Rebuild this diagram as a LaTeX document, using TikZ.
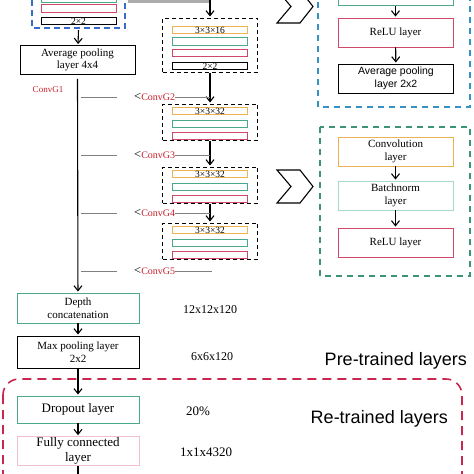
\documentclass[tikz,border=0pt]{standalone}
\usepackage{fontspec}
\setmainfont{Liberation Serif}
\setsansfont{Liberation Sans}
\usetikzlibrary{arrows.meta,calc}
\definecolor{layer-green}{RGB}{76,168,138}
\definecolor{layer-pink}{RGB}{208,72,104}
\definecolor{layer-orange}{RGB}{236,178,84}
\definecolor{layer-mint}{RGB}{168,218,200}
\definecolor{layer-rose}{RGB}{240,192,204}
\definecolor{conv-red}{RGB}{200,32,44}
\definecolor{group-blue}{RGB}{56,108,200}
\definecolor{group-sky}{RGB}{52,146,196}
\definecolor{group-green}{RGB}{60,148,118}
\definecolor{group-red}{RGB}{200,40,80}
\newcommand{\outtip}{{\color{black}\fontsize{12.5}{12}\selectfont<}}

\tikzset{
  layer/.style={draw, line width=0.9pt, minimum width=115pt, minimum height=29pt, inner sep=1pt, align=center, font=\fontsize{11}{12.5}\selectfont},
  bar/.style={draw, line width=0.8pt, minimum width=75pt, minimum height=7.5pt, inner sep=0pt, font=\fontsize{9.5}{9.5}\selectfont},
  grp/.style={draw, line width=1pt, dash pattern=on 4pt off 3pt, minimum width=95pt},
  arr/.style={-{Straight Barb[length=5pt,width=8pt]}, line width=1.1pt, shorten >=1pt},
  feed/.style={gray, line width=0.8pt},
  convlabel/.style={text=conv-red, inner sep=0pt, font=\fontsize{10}{11}\selectfont},
  dimtext/.style={inner sep=0pt, font=\fontsize{12}{13}\selectfont},
  chev/.style={line width=1.1pt, line join=miter}
}

\begin{document}
\begin{tikzpicture}[x=1pt, y=-1pt]
\useasboundingbox (0,0) rectangle (474,474);
\clip (0,0) rectangle (474,474);

% first stage, cut off at the top
\draw[group-blue, line width=1.4pt, dash pattern=on 6pt off 4pt] (32,-20) rectangle (125,28);
\node[bar, draw=layer-green] (s0g) at (78.5,-1.5) {};
\node[bar, draw=layer-pink] (s0p) at (78.5,8.5) {};
\node[bar] (s0b) at (78.5,21) {2×2};
\node[layer] (avg4) at (77.5,60) {Average pooling\\layer 4x4};
\draw[arr] ([yshift=-5pt]s0b.south) -- (avg4);

% main chain of conv groups
\node[fill=gray!65, minimum width=81pt, minimum height=8pt, inner sep=0pt] (gbar) at (168.5,-1) {};
\coordinate (gin) at (210,-2);
\node[grp, minimum height=54pt] (g1) at (210,45) {};
\node[bar, draw=layer-orange] (g1o) at (210,30) {3×3×16};
\node[bar, draw=layer-green] (g1g) at (210,41.5) {};
\node[bar, draw=layer-pink] (g1p) at (210,53) {};
\node[bar] (g1b) at (210,66) {2×2};
\foreach \n/\y in {2/104,3/167,4/223} {
  \node[grp, minimum height=36pt] (g\n) at (210,\y+18) {};
  \node[bar, draw=layer-orange] (g\n o) at (210,\y+7) {3×3×32};
  \node[bar, draw=layer-green] (g\n g) at (210,\y+20) {};
  \node[bar, draw=layer-pink] (g\n p) at (210,\y+32) {};
}
\draw[arr] (gin) -- (g1);
\draw[arr] (g1) -- (g2);
\draw[arr] (g2) -- (g3);
\draw[arr] (g3) -- (g4);

% group outputs
\node[convlabel, anchor=west] (lg2) at (134,97) {\outtip ConvG2};
\node[convlabel, anchor=west] (lg3) at (134,155) {\outtip ConvG3};
\node[convlabel, anchor=west] (lg4) at (134,213) {\outtip ConvG4};
\node[convlabel, anchor=west] (lg5) at (134,271) {\outtip ConvG5};
\draw[feed] (lg2.east) -- (lg2.east -| g2.north);
\draw[feed] (lg3.east) -- (lg3.east -| g3.north);
\draw[feed] (lg4.east) -- (lg4.east -| g4.north);
\draw[feed] (lg5.east) -- ($(lg5.east -| g4.south)+(2,0)$);
\node[convlabel, font=\fontsize{9}{10}\selectfont] (lg1) at (48,90) {ConvG1};
\foreach \n in {2,...,5}
  \draw[feed] ($(avg4.south |- lg\n.west)+(3,0)$) -- ++(36,0);

% concatenation and head
\node[layer, draw=layer-green, minimum width=122pt, minimum height=30pt] (depth) at (78,308) {Depth\\concatenation};
\node[layer, minimum width=122pt, minimum height=32pt] (maxp) at (78,352) {Max pooling layer\\2x2};
\node[layer, draw=layer-green, minimum width=122pt, minimum height=27pt, font=\fontsize{13}{15}\selectfont] (drop) at (78,409.5) {Dropout layer};
\node[layer, draw=layer-rose, minimum width=122pt, minimum height=28pt, font=\fontsize{13}{15}\selectfont] (fc) at (78,451) {Fully connected\\layer};
\coordinate (out) at (78,490);
\draw[arr] ([yshift=-4pt]avg4.south) -- (depth);
\draw[arr] (depth) -- (maxp);
\draw[arr] (maxp) -- (drop);
\draw[arr] (drop) -- (fc);
\draw[arr] (fc) -- (out);

\node[dimtext] (dm1) at (210,310) {12x12x120};
\node[dimtext] (dm2) at (212,357) {6x6x120};
\node[dimtext, font=\fontsize{13}{14}\selectfont] (dm3) at (198,411) {20\%};
\node[dimtext, font=\fontsize{13}{14}\selectfont] (dm4) at (206,452) {1x1x4320};

\draw[group-red, line width=1.6pt, dash pattern=on 9pt off 6pt, rounded corners=16pt] (3,379) rectangle (462,530);
\node[anchor=east, inner sep=0pt, font=\sffamily\fontsize{18}{20}\selectfont] (pre) at (467,361) {Pre-trained layers};
\node[anchor=east, inner sep=0pt, font=\sffamily\fontsize{18}{20}\selectfont] (re) at (448,419) {Re-trained layers};

% zoomed views on the right
\foreach \dy in {0,180}
  \draw[chev, yshift=\dy pt] (277,170) -- (300,170) -- (313,186.5) -- (300,203) -- (277,203) -- (291,186.5) -- cycle;

\draw[group-sky, line width=1.5pt, dash pattern=on 6pt off 5pt] (318,-20) rectangle (470,107);
\node[layer, draw=layer-green] (tbn) at (395.5,-9) {};
\node[layer, draw=layer-pink] (trelu) at (395.5,32.5) {ReLU layer};
\node[layer, font=\sffamily\fontsize{10.5}{12.5}\selectfont] (tavg) at (396,78.5) {Average pooling\\layer 2x2};
\draw[arr] (tbn) -- (trelu);
\draw[arr] (trelu) -- (tavg);

\draw[group-green, line width=1.5pt, dash pattern=on 6pt off 5pt] (320,127) rectangle (470,276);
\node[layer, draw=layer-orange] (bconv) at (395.5,151.5) {Convolution\\layer};
\node[layer, draw=layer-mint] (bbn) at (395.5,195.5) {Batchnorm\\layer};
\node[layer, draw=layer-pink] (brelu) at (395.5,242.5) {ReLU layer};
\draw[arr] (bconv) -- (bbn);
\draw[arr] (bbn) -- (brelu);
\end{tikzpicture}
\end{document}
